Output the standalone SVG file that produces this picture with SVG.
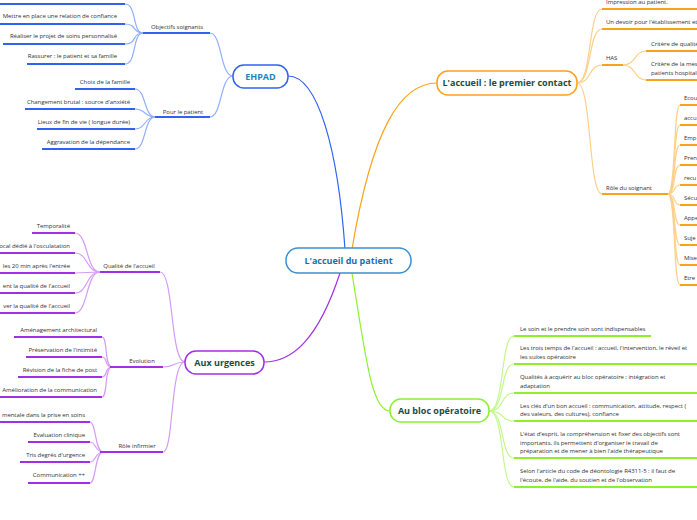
<svg xmlns="http://www.w3.org/2000/svg" width="697" height="520" viewBox="0 0 697 520">
<style>
text{font-family:"Open Sans","Liberation Sans",sans-serif;font-size:6px;letter-spacing:-0.05px;fill:#333}
.r{text-anchor:end}
.m{text-anchor:middle}
.nt{font-size:9px;font-weight:bold;text-anchor:middle;fill:#1d4d3f;letter-spacing:0}
.c{fill:none;stroke-width:1.2}
.u{fill:none;stroke-width:1.8}
.b{stroke:#2f64f2}.bl{stroke:#8fb0ff}
.o{stroke:#f9a21b}.ol{stroke:#fcd08a}
.p{stroke:#a22fe8}.pl{stroke:#d59cf5}
.g{stroke:#8ef02a}.gl{stroke:#c4f78f}
.box{fill:#fff;stroke-width:1.5}
</style>
<rect width="697" height="520" fill="#fff"/>
<g id="connectors">
<path class="c b" d="M345,249 C338,150 318,76 288,76"/>
<path class="c o" d="M352,249 C372,130 400,83 437,83"/>
<path class="c p" d="M340,273 C318,340 292,362 264,362"/>
<path class="c g" d="M352,273 C366,360 372,411 390,411"/>
<g class="c bl">
<path d="M233,76 C220,76 222,33 210,33"/><path d="M233,76 C220,76 222,117 210,117"/>
<path d="M143,33 C132,33 137,4 125,4"/><path d="M143,33 C132,33 137,24 125,24"/><path d="M143,33 C132,33 137,44 125,44"/><path d="M143,33 C132,33 137,64 125,64"/>
<path d="M155,117 C144,117 146,89 135,89"/><path d="M155,117 C144,117 146,109 135,109"/><path d="M155,117 C144,117 146,129 135,129"/><path d="M155,117 C144,117 146,149 135,149"/>
</g>
<g class="c ol">
<path d="M577,83 C592,83 588,9 602,9"/><path d="M577,83 C592,83 588,29 602,29"/><path d="M577,83 C592,83 588,65 602,65"/><path d="M577,83 C592,83 588,194 602,194"/>
<path d="M623,65 C636,65 634,51 646,51"/><path d="M623,65 C636,65 634,80 646,80"/>
<path d="M668,194 C676,194 673,105 680,105"/><path d="M668,194 C676,194 673,125 680,125"/><path d="M668,194 C676,194 673,145 680,145"/><path d="M668,194 C676,194 673,165 680,165"/><path d="M668,194 C676,194 673,185 680,185"/><path d="M668,194 C676,194 673,205 680,205"/><path d="M668,194 C676,194 673,225 680,225"/><path d="M668,194 C676,194 673,245 680,245"/><path d="M668,194 C676,194 673,265 680,265"/><path d="M668,194 C676,194 673,285 680,285"/>
</g>
<g class="c pl">
<path d="M185,362 C170,362 174,272 160,272"/><path d="M185,362 C172,362 176,367 163,367"/><path d="M185,362 C170,362 174,452 163,452"/>
<path d="M100,272 C86,272 88,233 75,233"/><path d="M100,272 C86,272 88,253 75,253"/><path d="M100,272 C86,272 88,273 75,273"/><path d="M100,272 C86,272 88,293 75,293"/><path d="M100,272 C86,272 88,313 75,313"/>
<path d="M112,367 C104,367 108,337 102,337"/><path d="M112,367 C104,367 108,357 102,357"/><path d="M112,367 C104,367 108,377 102,377"/><path d="M112,367 C104,367 108,397 102,397"/>
<path d="M103,452 C95,452 96,422 90,422"/><path d="M103,452 C95,452 96,442 90,442"/><path d="M103,452 C95,452 96,462 90,462"/><path d="M103,452 C95,452 96,483 90,483"/>
</g>
<g class="c gl">
<path d="M489,411 C505,411 500,336 514,336"/><path d="M489,411 C505,411 500,364 514,364"/><path d="M489,411 C505,411 500,393 514,393"/><path d="M489,411 C505,411 500,421 514,421"/><path d="M489,411 C505,411 500,458 514,458"/><path d="M489,411 C505,411 500,487 514,487"/>
</g>
</g>
<g id="center"><rect class="box" x="286" y="248" width="125" height="25" rx="12" stroke="#3a90d0"/><text class="nt" x="348.5" y="264" style="fill:#1a6fb0">L'accueil du patient</text></g>
<g id="ehpad"><rect class="box" x="233" y="65" width="55" height="23" rx="11" stroke="#2f64f2"/><text class="nt" x="260.5" y="80" style="fill:#1a86c0">EHPAD</text></g>
<g id="accueil"><rect class="box" x="437" y="71" width="140" height="24" rx="11" stroke="#f9a21b"/><text class="nt" x="507" y="86">L'accueil : le premier contact</text></g>
<g id="urgences"><rect class="box" x="185" y="351" width="79" height="23" rx="11" stroke="#a22fe8"/><text class="nt" x="224.5" y="366">Aux urgences</text></g>
<g id="bloc"><rect class="box" x="390" y="399" width="99" height="23" rx="11" stroke="#8ef02a"/><text class="nt" x="439.5" y="414">Au bloc opératoire</text></g>
<g id="ehpad-children">
<path class="u b" d="M143,33H210M155,117H210M0,4H125M0,24H125M3,44H125M27,64H125M75,89H135M25,109H135M37,129H135M42,149H135"/>
<text class="m" x="177" y="29">Objectifs soignants</text>
<text class="m" x="183" y="114">Pour le patient</text>
<text class="r" x="117" y="18">Mettre en place une relation de confiance</text>
<text class="r" x="117" y="38">Réaliser le projet de soins personnalisé</text>
<text class="r" x="117" y="58">Rassurer : le patient et sa famille</text>
<text class="r" x="130" y="84">Choix de la famille</text>
<text class="r" x="130" y="104">Changement brutal : source d'anxiété</text>
<text class="r" x="130" y="124">Lieux de fin de vie ( longue durée)</text>
<text class="r" x="130" y="144">Aggravation de la dépendance</text>
</g>
<g id="urgences-children">
<path class="u p" d="M100,272H160M110,367H163M100,452H163M32,233H75M0,253H75M0,273H75M0,293H75M0,313H75M14,337H102M26,357H102M18,377H102M0,397H102M0,422H90M28,442H90M20,462H90M28,483H90"/>
<text class="m" x="129" y="268">Qualité de l'accueil</text>
<text class="m" x="142" y="363">Evolution</text>
<text class="m" x="137" y="448">Rôle infirmier</text>
<text class="r" x="70" y="228">Temporalité</text>
<text class="r" x="70" y="248">ocal dédié à l'osculatation</text>
<text class="r" x="70" y="268">les 20 min après l'entrée</text>
<text class="r" x="70" y="288">ent la qualité de l'accueil</text>
<text class="r" x="70" y="308">ver la qualité de l'accueil</text>
<text class="r" x="97" y="332">Aménagement architectural</text>
<text class="r" x="97" y="352">Préservation de l'intimité</text>
<text class="r" x="97" y="372">Révision de la fiche de post</text>
<text class="r" x="97" y="392">Amélioration de la communication</text>
<text class="r" x="85" y="417">mentale dans la prise en soins</text>
<text class="r" x="85" y="437">Evaluation clinique</text>
<text class="r" x="85" y="457">Tris degrés d'urgence</text>
<text class="r" x="85" y="477">Communication ++</text>
</g>
<g id="accueil-children">
<path class="u o" d="M602,9H697M602,29H697M602,65H623M602,194H668M646,51H697M646,80H697M680,105H697M680,125H697M680,145H697M680,165H697M680,185H697M680,205H697M680,225H697M680,245H697M680,265H697M680,285H697"/>
<text x="606" y="4">Impression au patient.</text>
<text x="606" y="24">Un devoir pour l'établissement et</text>
<text x="606" y="60">HAS</text>
<text x="606" y="190">Rôle du soignant</text>
<text x="651" y="46">Critère de qualité</text>
<text x="651" y="66">Critère de la mesure</text>
<text x="651" y="75">patients hospitalisés</text>
<text x="684" y="100">Ecou</text><text x="684" y="120">accu</text><text x="684" y="140">Emp</text><text x="684" y="160">Pren</text><text x="684" y="180">recu</text><text x="684" y="200">Sécu</text><text x="684" y="220">Appe</text><text x="684" y="240">Suje</text><text x="684" y="260">Mise</text><text x="684" y="280">Etre</text>
</g>
<g id="bloc-children">
<path class="u g" d="M514,336H651M514,364H697M514,393H697M514,421H697M514,458H697M514,487H697"/>
<text x="520" y="331">Le soin et le prendre soin sont indispensables</text>
<text x="520" y="350">Les trois  temps de l'accueil : accueil, l'intervention, le réveil et</text>
<text x="520" y="359">les suites opératoire</text>
<text x="520" y="379">Qualités à acquérir au bloc opératoire : intégration et</text>
<text x="520" y="388">adaptation</text>
<text x="520" y="408">Les clés d'un bon accueil : communication, attitude, respect (</text>
<text x="520" y="416">des valeurs, des cultures), confiance</text>
<text x="520" y="436">L'état d'esprit, la compréhension et fixer des objectifs sont</text>
<text x="520" y="445">importants, ils permettent  d'organiser le travail de</text>
<text x="520" y="453">préparation et de mener à bien l'aide thérapeutique</text>
<text x="520" y="473">Selon l'article du code de déontologie R4311-5 : il faut de</text>
<text x="520" y="482">l'écoute, de l'aide, du soutien et de l'observation</text>
</g>
</svg>
